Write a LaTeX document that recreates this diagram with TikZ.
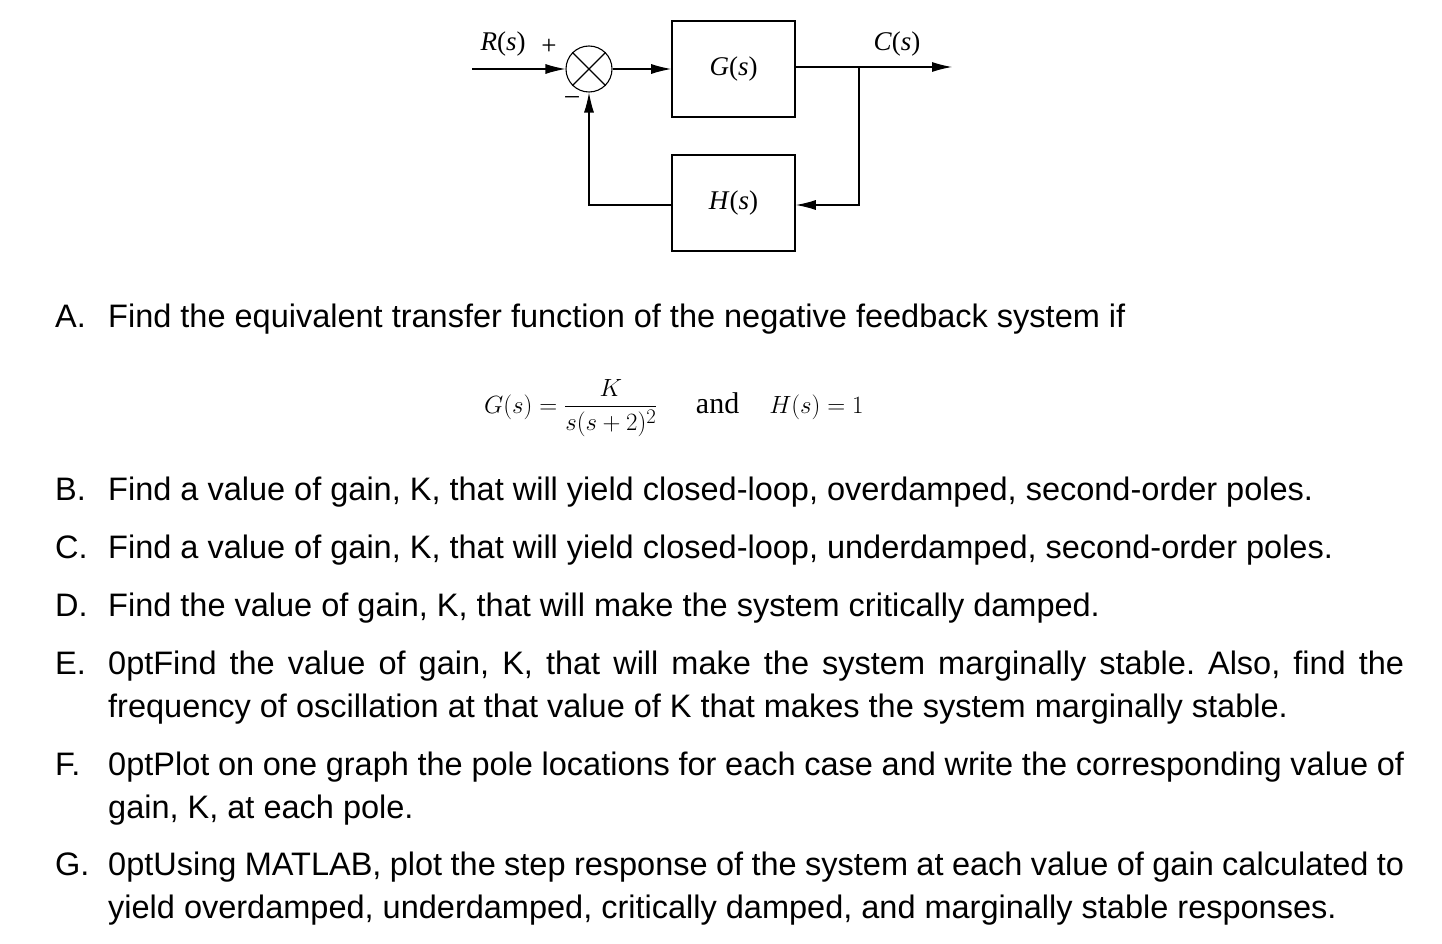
\documentclass[tikz,border=0pt]{standalone}
\usepackage{amsmath}
\usepackage{fontspec}
\setmainfont{Liberation Sans}
\newfontfamily\serifit{Liberation Serif}[Scale=1.0]
\usetikzlibrary{arrows.meta}
\begin{document}
\begin{tikzpicture}[x=1pt,y=-1pt,
  blk/.style={draw,line width=1.6pt,minimum width=123pt,minimum height=96pt},
  ln/.style={line width=1.1pt},
  arr/.style={ln,-{Latex[length=20pt,width=10pt]}},
  dl/.style={font=\fontsize{27}{30}\selectfont\serifit},
  item/.style={anchor=base west,text width=1296pt,align=justify,inner sep=0pt,font=\fontsize{32.5}{43}\selectfont\frenchspacing\hyphenpenalty=10000},
  lab/.style={anchor=base west,inner sep=0pt,font=\fontsize{32.5}{43}\selectfont}]
\useasboundingbox (0,0) rectangle (1442,944);
\node[blk] (G) at (733.5,69) {};
\node[dl] at (733.5,69) {\textit{G}(\textit{s})};
\node[blk] (H) at (733.5,203) {};
\node[dl] at (733.5,203) {\textit{H}(\textit{s})};
\node[draw,circle,ln,minimum size=46pt,inner sep=0pt] (S) at (589,69) {};
\draw[ln] (S.45) -- (S.225) (S.135) -- (S.-45);
\coordinate (in) at (472,69);
\coordinate (out) at (952,67);
\coordinate (br) at (859,67);
\coordinate (fb) at (589,205);
\draw[arr] (in) -- (S.west);
\draw[arr] (S.east) -- (G.west);
\draw[arr] (G.east |- br) -- (out);
\draw[arr] (br) |- (H.east |- fb);
\draw[arr] (H.west |- fb) -- (fb) -- (S.south);
\node[dl] at (503,44) {\textit{R}(\textit{s})};
\node[dl] at (549,47) {+};
\node[dl] at (572,100) {\textendash};
\node[dl] at (897,44) {\textit{C}(\textit{s})};
% text
\node[lab] at (55,327) {A.};
\node[lab] at (108,327) {Find the equivalent transfer function of the negative feedback system if};
\node[anchor=base west,inner sep=0pt,font=\fontsize{30}{34}\selectfont] at (484,413)
  {$G(s)=\dfrac{K}{s(s+2)^2}\quad$ \serifit and\quad $H(s)=1$};
\node[lab] at (55,500) {B.};
\node[lab] at (108,500) {Find a value of gain, K, that will yield closed-loop, overdamped, second-order poles.};
\node[lab] at (55,558) {C.};
\node[lab] at (108,558) {Find a value of gain, K, that will yield closed-loop, underdamped, second-order poles.};
\node[lab] at (55,616) {D.};
\node[lab] at (108,616) {Find the value of gain, K, that will make the system critically damped.};
\node[lab] at (55,674) {E.};
\node[item] at (108,674) {Find the value of gain, K, that will make the system marginally stable. Also, find the\linebreak frequency of oscillation at that value of K that makes the system marginally stable.};
\node[lab] at (55,775) {F.};
\node[item] at (108,775) {Plot on one graph the pole locations for each case and write the corresponding value of\linebreak gain, K, at each pole.};
\node[lab] at (55,875) {G.};
\node[item] at (108,875) {Using MATLAB, plot the step response of the system at each value of gain calculated to\linebreak yield overdamped, underdamped, critically damped, and marginally stable responses.};
\end{tikzpicture}
\end{document}
